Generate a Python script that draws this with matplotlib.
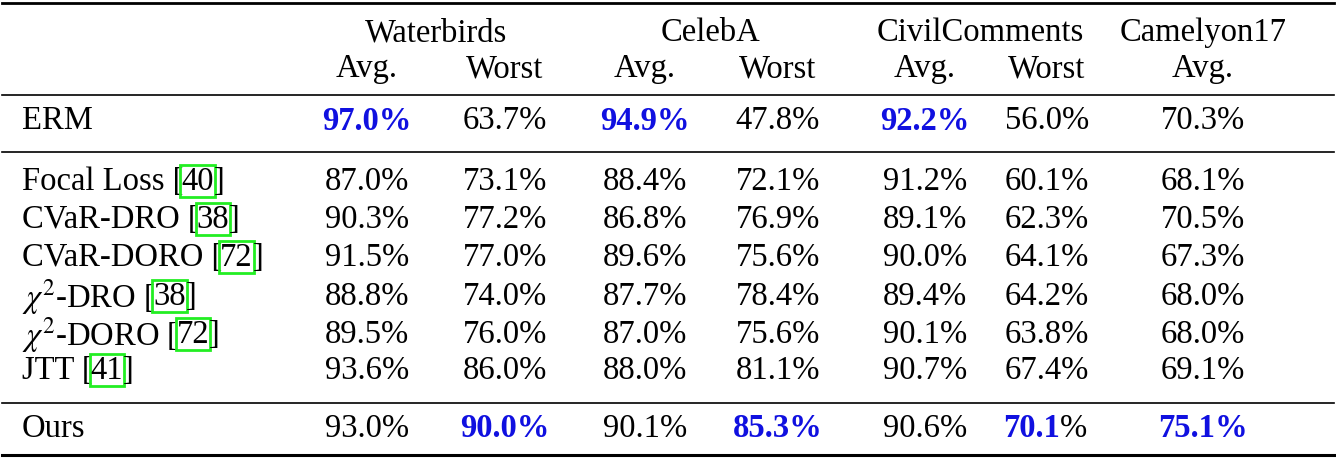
import matplotlib.pyplot as plt

plt.rcParams['font.family'] = ['Liberation Serif', 'DejaVu Serif']
plt.rcParams['mathtext.fontset'] = 'stix'

groups = ["Waterbirds", "CelebA", "CivilComments", "Camelyon17"]
subcols = ["Avg.", "Worst", "Avg.", "Worst", "Avg.", "Worst", "Avg."]
methods = ["ERM", "Focal Loss", "CVaR-DRO", "CVaR-DORO", r"$\chi^2$-DRO",
           r"$\chi^2$-DORO", "JTT", "Ours"]
cites = [None, "40", "38", "72", "38", "72", "41", None]
values = [
    [97.0, 63.7, 94.9, 47.8, 92.2, 56.0, 70.3],
    [87.0, 73.1, 88.4, 72.1, 91.2, 60.1, 68.1],
    [90.3, 77.2, 86.8, 76.9, 89.1, 62.3, 70.5],
    [91.5, 77.0, 89.6, 75.6, 90.0, 64.1, 67.3],
    [88.8, 74.0, 87.7, 78.4, 89.4, 64.2, 68.0],
    [89.5, 76.0, 87.0, 75.6, 90.1, 63.8, 68.0],
    [93.6, 86.0, 88.0, 81.1, 90.7, 67.4, 69.1],
    [93.0, 90.0, 90.1, 85.3, 90.6, 70.1, 75.1],
]
# best entries per column (row index)
best = [0, 7, 0, 7, 0, 7, 7]

W, H = 1336, 460
fig = plt.figure(figsize=(W / 100, H / 100), dpi=100)
ax = fig.add_axes([0, 0, 1, 1])
ax.set_xlim(0, W)
ax.set_ylim(H, 0)
ax.axis('off')

fs = 23.5
col_x = [367, 505, 645, 778, 925, 1047, 1203]
group_x = [436, 711, 980, 1203]
row_y = [121, 182, 220, 258, 297, 335, 371, 429]

for g, x in zip(groups, group_x):
    ax.text(x, 33, g, ha='center', va='center', fontsize=fs)
for s, x in zip(subcols, col_x):
    ax.text(x, 69, s, ha='center', va='center', fontsize=fs)

for yl, lw in [(4, 2.0), (96, 1.2), (153, 1.2), (404, 1.2), (456, 2.2)]:
    ax.plot([2, W - 2], [yl, yl], color='black', lw=lw)

fig.canvas.draw()
r = fig.canvas.get_renderer()
inv = ax.transData.inverted()


def next_x(t):
    bb = t.get_window_extent(r)
    return inv.transform((bb.x1, bb.y0))[0]


for i, (m, c) in enumerate(zip(methods, cites)):
    y = row_y[i]
    t = ax.text(22, y, m + (" [" if c else ""), ha='left', va='center', fontsize=fs)
    if c:
        x = next_x(t)
        t2 = ax.text(x - 2, y, c, ha='left', va='center', fontsize=fs,
                     bbox=dict(boxstyle='square,pad=0.03', fc='none', ec='#22ee22', lw=2))
        x2 = next_x(t2)
        ax.text(x2, y, "]", ha='left', va='center', fontsize=fs)
    for j, v in enumerate(values[i]):
        s = f"{v:.1f}%"
        if best[j] == i:
            if i == 7 and j == 5:
                t = ax.text(col_x[j] - 44, y, f"{v:.1f}", ha='left', va='center',
                            fontsize=fs, color='#1010e0', fontweight='bold')
                ax.text(next_x(t), y, "%", ha='left', va='center', fontsize=fs)
            else:
                ax.text(col_x[j], y, s, ha='center', va='center', fontsize=fs,
                        color='#1010e0', fontweight='bold')
        else:
            ax.text(col_x[j], y, s, ha='center', va='center', fontsize=fs)

fig.savefig('out.png', dpi=100)
